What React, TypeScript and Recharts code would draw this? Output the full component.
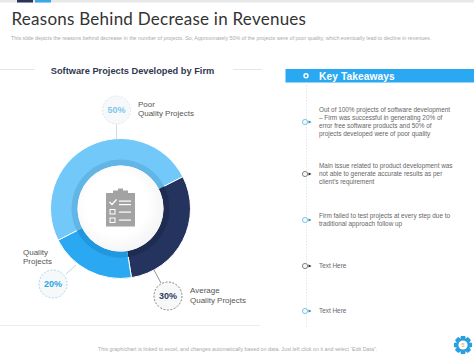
import { PieChart, Pie, Cell } from "recharts"

const categories = ["Poor Quality Projects", "Average Quality Projects", "Quality Projects"]
const shares = [50, 30, 20]
const outerColors = ["#72c8f8", "#24345f", "#2aa8f2"]
const innerColors = ["#62b6e6", "#1e2c52", "#2198de"]

const takeaways = [
  {
    y: 122,
    color: "#6cc4e8",
    lines: [
      "Out of 100% projects of software development",
      "– Firm was successful in generating  20% of",
      "error free software products and 50% of",
      "projects developed  were of poor quality",
    ],
  },
  {
    y: 174,
    color: "#777777",
    lines: [
      "Main issue related to product development  was",
      "not able to generate  accurate results as per",
      "client’s requirement",
    ],
  },
  {
    y: 220,
    color: "#6cc4e8",
    lines: ["Firm failed  to test projects  at every  step due to", "traditional  approach  follow  up"],
  },
  { y: 266, color: "#777777", lines: ["Text Here"] },
  { y: 311, color: "#6cc4e8", lines: ["Text Here"] },
]

const chartData = categories.map((name, i) => ({ name, value: shares[i] }))
const sans = "'Liberation Sans', Arial, sans-serif"

function Badge({ cx, cy, label, color, ring }: { cx: number; cy: number; label: string; color: string; ring: string }) {
  return (
    <g>
      <circle cx={cx} cy={cy} r={14} fill="#f7f8fa" stroke={ring} strokeWidth={0.8} strokeDasharray="2 1.5" />
      <text x={cx} y={cy + 3.2} textAnchor="middle" fontSize={9} fontWeight={700} fill={color} fontFamily={sans}>
        {label}
      </text>
    </g>
  )
}

function Note({ x, y, lines, size = 8 }: { x: number; y: number; lines: string[]; size?: number }) {
  return (
    <text fontFamily={sans} fontSize={size} fill="#555">
      {lines.map((line, i) => (
        <tspan key={i} x={x} y={y + i * 9.5}>
          {line}
        </tspan>
      ))}
    </text>
  )
}

function Overlay() {
  const gearTeeth = [0, 45, 90, 135, 180, 225, 270, 315]
  return (
    <svg width={474} height={355} style={{ position: "absolute", left: 0, top: 0 }}>
      <defs>
        <radialGradient id="hub" cx="0.45" cy="0.45" r="0.65">
          <stop offset="55%" stopColor="#ffffff" />
          <stop offset="100%" stopColor="#f0f0f0" />
        </radialGradient>
      </defs>

      {/* slide frame */}
      <rect x={0} y={0} width={474} height={2.5} fill="#e8e8e8" />
      <rect x={17} y={0} width={16} height={2.5} fill="#2a3358" />
      <rect x={35} y={0} width={16} height={2.5} fill="#36a9e8" />
      <text x={11.5} y={25} fontSize={17} fill="#333" fontFamily="Lato, sans-serif" letterSpacing={0.25}>
        Reasons Behind Decrease in Revenues
      </text>
      <text x={11} y={40} fontSize={5.33} fill="#aaa" fontFamily={sans}>
        This slide depicts the reasons behind decrease in the number of projects. So, Approximately 50% of the projects were of poor quality, which eventually lead to decline in revenues.
      </text>

      {/* left panel */}
      <line x1={0} y1={69.5} x2={35} y2={69.5} stroke="#e6e6e6" />
      <line x1={233} y1={69.5} x2={262} y2={69.5} stroke="#e6e6e6" />
      <line x1={0} y1={325.5} x2={260} y2={325.5} stroke="#ececec" />
      <text x={132.5} y={73.5} textAnchor="middle" fontSize={9.25} fontWeight={700} fill="#30374f" fontFamily={sans}>
        Software Projects Developed by Firm
      </text>

      {/* hub with clipboard */}
      <circle cx={120.5} cy={208.5} r={43} fill="url(#hub)" />
      <rect x={106} y={193} width={29} height={33.5} fill="#a3a3a3" />
      <rect x={113} y={190.5} width={15} height={4} fill="#a3a3a3" />
      <rect x={118} y={188.5} width={5} height={3} fill="#a3a3a3" />
      <path d="M109.5 202 l2.5 2.5 l4.5 -5" fill="none" stroke="#fff" strokeWidth={1.3} />
      <rect x={110} y={209.5} width={5} height={4.5} fill="none" stroke="#fff" strokeWidth={1} />
      <rect x={110} y={218} width={5} height={4.5} fill="none" stroke="#fff" strokeWidth={1} />
      {[200.5, 204, 211.5, 219.5].map((y) => (
        <rect key={y} x={119} y={y} width={12} height={1.2} fill="#fff" />
      ))}

      {/* callouts */}
      <line x1={116.5} y1={124} x2={116.5} y2={139} stroke="#cfdde6" strokeWidth={1} />
      <line x1={66} y1={274} x2={76} y2={265} stroke="#a9dcee" strokeWidth={1} />
      <line x1={154} y1={270} x2={161} y2={283} stroke="#777" strokeWidth={0.8} />
      <Badge cx={116.5} cy={110} label="50%" color="#7cc8ee" ring="#d6dfe6" />
      <Badge cx={53} cy={284} label="20%" color="#2ba7e0" ring="#8fd0df" />
      <Badge cx={168} cy={296} label="30%" color="#2f3c63" ring="#666" />
      <Note x={138} y={106.5} lines={["Poor", "Quality  Projects"]} />
      <Note x={23} y={254.5} lines={["Quality", "Projects"]} />
      <Note x={190} y={293} lines={["Average", "Quality  Projects"]} />

      {/* key takeaways */}
      <rect x={285.5} y={69} width={188.5} height={13.5} fill="#2aa8f2" />
      <circle cx={306} cy={75.8} r={2} fill="none" stroke="#fff" strokeWidth={1.4} />
      <text x={319} y={79.5} fontSize={10.2} fontWeight={700} fill="#fff" fontFamily={sans} letterSpacing={0.1}>
        Key Takeaways
      </text>
      <line x1={306.5} y1={82} x2={306.5} y2={328} stroke="#dcdcdc" strokeWidth={0.7} strokeDasharray="1.5 1.5" />
      {takeaways.map((item) => (
        <g key={item.y}>
          <circle cx={305} cy={item.y} r={2.6} fill="#f4f8fa" stroke={item.color} strokeWidth={0.9} />
          <path d={`M308.5 ${item.y - 1.6} l3 1.6 l-3 1.6 z`} fill={item.color === "#777777" ? "#222" : "#3e7f99"} />
          <text fontFamily={sans} fontSize={6.4} fill="#666">
            {item.lines.map((line, i) => (
              <tspan key={i} x={319} y={item.y + 2.2 - ((item.lines.length - 1) * 8) / 2 + i * 8}>
                {line}
              </tspan>
            ))}
          </text>
        </g>
      ))}

      {/* footer */}
      <text x={98} y={350.5} fontSize={5.33} fill="#aaa" fontFamily={sans}>
        This graph/chart is linked to excel, and changes automatically based on data. Just left click on it and select “Edit Data”.
      </text>
      {gearTeeth.map((a) => (
        <rect key={a} x={460.7} y={336} width={4.6} height={18} rx={1} fill="#2a9fe0" transform={`rotate(${a} 463 345)`} />
      ))}
      <circle cx={463} cy={345} r={6.8} fill="#2a9fe0" />
      <circle cx={463} cy={345} r={4.6} fill="#fff" />
      <text x={463} y={347.1} textAnchor="middle" fontSize={5.6} fill="#e89a2c" fontFamily={sans}>
        5
      </text>
    </svg>
  )
}

export default function App() {
  return (
    <div style={{ position: "absolute", left: 0, top: 0, width: 474, height: 355, background: "#fff", overflow: "hidden" }}>
      <PieChart width={474} height={355} margin={{ top: 0, right: 0, bottom: 0, left: 0 }}>
        <Pie
          data={chartData}
          dataKey="value"
          cx={120.5}
          cy={208.5}
          innerRadius={43}
          outerRadius={70}
          startAngle={207}
          endAngle={-153}
          stroke="#fff"
          strokeWidth={1}
          isAnimationActive={false}
        >
          {outerColors.map((c) => (
            <Cell key={c} fill={c} />
          ))}
        </Pie>
        <Pie
          data={chartData}
          dataKey="value"
          cx={120.5}
          cy={208.5}
          innerRadius={43}
          outerRadius={49}
          startAngle={207}
          endAngle={-153}
          stroke="none"
          isAnimationActive={false}
        >
          {innerColors.map((c) => (
            <Cell key={c} fill={c} stroke="none" />
          ))}
        </Pie>
      </PieChart>
      <Overlay />
    </div>
  )
}
